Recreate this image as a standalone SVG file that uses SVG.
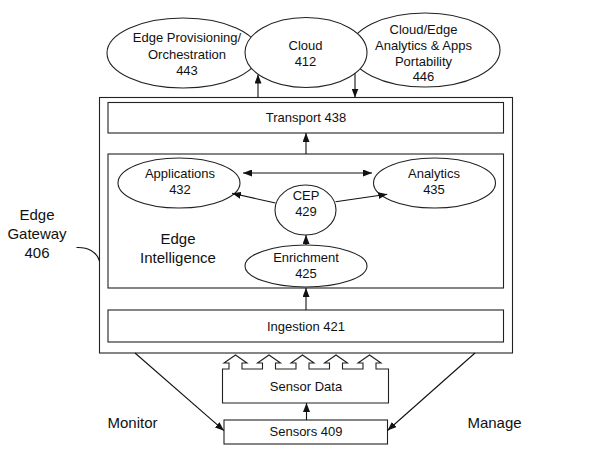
<svg xmlns="http://www.w3.org/2000/svg" width="599" height="471" viewBox="0 0 599 471">
<style>
  .shape { fill: #fff; stroke: #222; stroke-width: 1.1; }
  .conn { fill: none; stroke: #111; stroke-width: 1.1; }
  .t { font-family: "Liberation Sans", Arial, sans-serif; font-size: 13px; fill: #111; text-anchor: middle; }
  .tl { font-family: "Liberation Sans", Arial, sans-serif; font-size: 15px; fill: #111; text-anchor: middle; }
</style>
<defs>
  <marker id="ah" viewBox="0 0 9 7" refX="9" refY="3.5" markerWidth="9" markerHeight="7" markerUnits="userSpaceOnUse" orient="auto-start-reverse">
    <path d="M0,0 L9,3.5 L0,7 Z" fill="#111"/>
  </marker>
</defs>
<rect width="599" height="471" fill="#fff"/>

<g id="edge-gateway">
  <rect class="shape" x="99.5" y="97.5" width="413" height="255.5"/>
  <text class="tl" x="37" y="220">Edge</text>
  <text class="tl" x="37" y="239">Gateway</text>
  <text class="tl" x="37" y="258">406</text>
  <path class="conn" d="M76.5 247.5 C88 247 97 252 99.5 261"/>
</g>

<g id="edge-provisioning">
  <ellipse class="shape" cx="183" cy="53" rx="76" ry="35"/>
  <text class="t" x="187" y="42">Edge Provisioning/</text>
  <text class="t" x="187" y="58.5">Orchestration</text>
  <text class="t" x="187" y="74.5">443</text>
</g>

<g id="portability">
  <ellipse class="shape" cx="425" cy="50" rx="75" ry="37"/>
  <text class="t" x="423.5" y="33.5">Cloud/Edge</text>
  <text class="t" x="423.5" y="49.5">Analytics &amp; Apps</text>
  <text class="t" x="423.5" y="65.5">Portability</text>
  <text class="t" x="423.5" y="81">446</text>
</g>

<g id="cloud">
  <ellipse class="shape" cx="306" cy="52.5" rx="61" ry="35"/>
  <text class="t" x="305.5" y="49.5">Cloud</text>
  <text class="t" x="305.5" y="66">412</text>
</g>

<g id="transport">
  <rect class="shape" x="108" y="102.5" width="395.5" height="30.5"/>
  <text class="t" x="306" y="122">Transport 438</text>
</g>

<g id="edge-intelligence">
  <rect class="shape" x="108" y="154" width="395.5" height="134"/>
  <text class="tl" x="178" y="243.5">Edge</text>
  <text class="tl" x="178" y="262.5">Intelligence</text>
</g>

<g id="applications">
  <ellipse class="shape" cx="179" cy="183" rx="61" ry="25"/>
  <text class="t" x="180" y="178">Applications</text>
  <text class="t" x="180" y="194">432</text>
</g>

<g id="analytics">
  <ellipse class="shape" cx="434.5" cy="183" rx="61" ry="25"/>
  <text class="t" x="434" y="178">Analytics</text>
  <text class="t" x="434" y="194">435</text>
</g>

<g id="cep">
  <ellipse class="shape" cx="305.5" cy="210" rx="30.5" ry="25"/>
  <text class="t" x="306" y="200">CEP</text>
  <text class="t" x="306" y="216">429</text>
</g>

<g id="enrichment">
  <ellipse class="shape" cx="306" cy="266" rx="61" ry="21"/>
  <text class="t" x="306" y="262">Enrichment</text>
  <text class="t" x="306" y="277.5">425</text>
</g>

<g id="ingestion">
  <rect class="shape" x="108" y="310" width="395.5" height="32"/>
  <text class="t" x="306" y="331">Ingestion 421</text>
</g>

<g id="sensor-data">
  <path class="shape" d="M222.5 403 L222.5 369 L229 369 L229 363 L224 363 L235.5 355 L247 363 L242 363 L242 369 L262.5 369 L262.5 363 L257.5 363 L269 355 L280.5 363 L275.5 363 L275.5 369 L296 369 L296 363 L291 363 L302.5 355 L314 363 L309 363 L309 369 L329.5 369 L329.5 363 L324.5 363 L336 355 L347.5 363 L342.5 363 L342.5 369 L363 369 L363 363 L358 363 L369.5 355 L381 363 L376 363 L376 369 L388.5 369 L388.5 403 Z"/>
  <text class="t" x="306" y="391">Sensor Data</text>
</g>

<g id="sensors">
  <rect class="shape" x="224" y="420" width="163.5" height="24"/>
  <text class="t" x="306" y="436">Sensors 409</text>
</g>

<g id="labels">
  <text class="tl" x="132.5" y="427.5">Monitor</text>
  <text class="tl" x="494.5" y="427.5">Manage</text>
</g>

<g id="connectors">
  <line class="conn" x1="258" y1="97.5" x2="258" y2="74.5" marker-end="url(#ah)"/>
  <line class="conn" x1="355" y1="73.5" x2="355" y2="97.5" marker-end="url(#ah)"/>
  <line class="conn" x1="306" y1="154" x2="306" y2="133" marker-end="url(#ah)"/>
  <line class="conn" x1="243" y1="173" x2="372" y2="173" marker-start="url(#ah)" marker-end="url(#ah)"/>
  <line class="conn" x1="275.5" y1="203" x2="232" y2="193.3" marker-end="url(#ah)"/>
  <line class="conn" x1="335.5" y1="201.7" x2="387.3" y2="194.3" marker-end="url(#ah)"/>
  <line class="conn" x1="306" y1="245" x2="306" y2="235" marker-end="url(#ah)"/>
  <line class="conn" x1="306" y1="310" x2="306" y2="288" marker-end="url(#ah)"/>
  <line class="conn" x1="306.5" y1="420" x2="306.5" y2="403" marker-end="url(#ah)"/>
  <line class="conn" x1="135" y1="353" x2="224" y2="430.7" marker-end="url(#ah)"/>
  <line class="conn" x1="475" y1="353" x2="387.5" y2="430.5" marker-end="url(#ah)"/>
</g>
</svg>
